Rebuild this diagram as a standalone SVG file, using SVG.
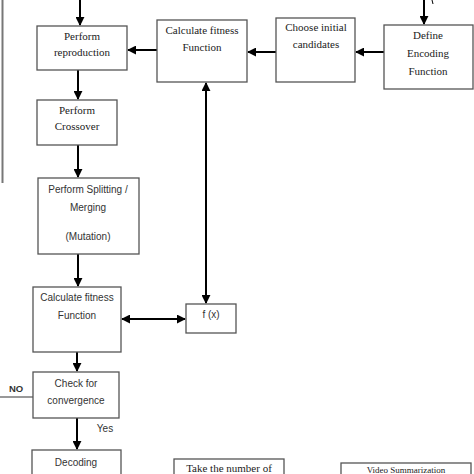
<svg xmlns="http://www.w3.org/2000/svg" width="474" height="474" viewBox="0 0 474 474">
<defs>
<marker id="ah" viewBox="0 0 10 10" refX="9" refY="5" markerWidth="4.5" markerHeight="4.5" orient="auto-start-reverse" markerUnits="strokeWidth">
<path d="M0,0 L10,5 L0,10 z" fill="#000"/>
</marker>
<style>
.box{fill:#fff;stroke:#555;stroke-width:1.3}
.ser{font-family:"Liberation Serif","Times New Roman",serif;font-size:11px;fill:#222;text-anchor:middle}
.san{font-family:"Liberation Sans",Arial,sans-serif;font-size:10px;fill:#333;text-anchor:middle}
.arr{stroke:#000;stroke-width:2;fill:none;marker-end:url(#ah)}
.dbl{stroke:#000;stroke-width:2;fill:none;marker-end:url(#ah);marker-start:url(#ah)}
.gray{stroke:#777;stroke-width:1.3;fill:none}
</style>
</defs>
<rect width="474" height="474" fill="#fff"/>
<line x1="2.5" y1="0" x2="2.5" y2="183" stroke="#777" stroke-width="2"/>
<g id="connectors">
<line class="arr" x1="80" y1="0" x2="80" y2="25"/>
<line class="arr" x1="424" y1="0" x2="424" y2="24"/>
<line x1="432" y1="0" x2="433" y2="4" stroke="#000" stroke-width="1"/>
<line class="arr" x1="157" y1="50" x2="128" y2="50"/>
<line class="arr" x1="276" y1="52" x2="248" y2="52"/>
<line class="arr" x1="384" y1="52" x2="356" y2="52"/>
<line class="arr" x1="78" y1="70" x2="78" y2="99"/>
<line class="arr" x1="78" y1="145" x2="78" y2="177"/>
<line class="arr" x1="78" y1="254" x2="78" y2="286"/>
<line class="dbl" x1="206" y1="83" x2="206" y2="303"/>
<line class="dbl" x1="122" y1="319" x2="185" y2="319"/>
<line class="arr" x1="77" y1="352" x2="77" y2="371"/>
<line class="arr" x1="77" y1="418" x2="77" y2="449"/>
<line class="gray" x1="0" y1="397" x2="33" y2="397"/>
<line x1="77" y1="467" x2="77" y2="474" stroke="#000" stroke-width="2"/>
</g>
<g id="n-reproduction">
<rect class="box" x="37" y="26" width="90" height="44"/>
<text class="ser" x="82" y="40">Perform</text>
<text class="ser" x="82" y="56">reproduction</text>
</g>
<g id="n-crossover">
<rect class="box" x="37" y="100" width="80" height="45"/>
<text class="ser" x="77" y="114">Perform</text>
<text class="ser" x="77" y="130">Crossover</text>
</g>
<g id="n-calc-top">
<rect class="box" x="157" y="20" width="90" height="62"/>
<text class="ser" x="202" y="34">Calculate fitness</text>
<text class="ser" x="202" y="51">Function</text>
</g>
<g id="n-choose">
<rect class="box" x="276" y="18" width="79" height="64"/>
<text class="ser" x="316" y="31">Choose initial</text>
<text class="ser" x="316" y="48">candidates</text>
</g>
<g id="n-define">
<rect class="box" x="384" y="25" width="89" height="64"/>
<text class="ser" x="428" y="39">Define</text>
<text class="ser" x="428" y="57">Encoding</text>
<text class="ser" x="428" y="75">Function</text>
</g>
<g id="n-splitting">
<rect class="box" x="38" y="178" width="101" height="76"/>
<text class="san" x="88" y="193">Perform Splitting /</text>
<text class="san" x="88" y="211">Merging</text>
<text class="san" x="88" y="240">(Mutation)</text>
</g>
<g id="n-calc-low">
<rect class="box" x="33" y="287" width="88" height="65"/>
<text class="san" x="77" y="301">Calculate fitness</text>
<text class="san" x="77" y="319">Function</text>
</g>
<g id="n-fx">
<rect class="box" x="186" y="304" width="50" height="29"/>
<text class="san" x="211" y="318">f (x)</text>
</g>
<g id="n-check">
<rect class="box" x="33" y="372" width="86" height="46"/>
<text class="san" x="76" y="387">Check for</text>
<text class="san" x="76" y="404">convergence</text>
<text class="san" x="16" y="392" style="font-weight:bold;font-size:9.5px">NO</text>
<text class="san" x="105" y="432">Yes</text>
</g>
<g id="n-decoding">
<rect class="box" x="32" y="450" width="89" height="30"/>
<text class="san" x="76" y="466">Decoding</text>
</g>
<g id="n-take">
<rect class="box" x="174" y="459" width="110" height="30"/>
<text class="ser" x="229" y="472">Take the number of</text>
</g>
<g id="n-video">
<rect class="box" x="341" y="463" width="130" height="30"/>
<text class="ser" x="406" y="472.5" style="font-size:9px">Video Summarization</text>
</g>
</svg>
